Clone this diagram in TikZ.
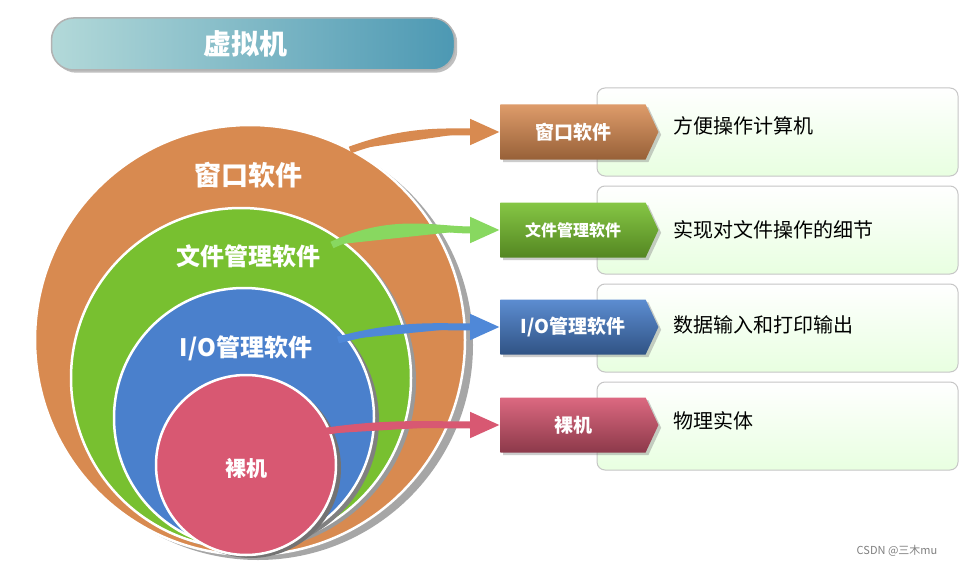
\documentclass[tikz,border=0pt]{standalone}
\usepackage{fontspec}
\setmainfont{Noto Sans CJK SC}
\usetikzlibrary{shadows,shapes.symbols,arrows.meta}
\definecolor{cor}{HTML}{D88A50}
\definecolor{cgr}{HTML}{78C030}
\definecolor{cbl}{HTML}{4A80CC}
\definecolor{cpk}{HTML}{D85872}
\definecolor{cgrA}{HTML}{88D860}
\definecolor{cblA}{HTML}{4F88D8}
\begin{document}
\begin{tikzpicture}[x=1pt,y=-1pt,
 panel/.style={draw=gray!45,rounded corners=8pt,top color=white,bottom color=yellow!25!green!12,line width=1pt},
 tag/.style={signal,signal to=east,signal pointer angle=130,minimum width=158pt,minimum height=55pt,inner sep=0pt,text=white,font=\bfseries\fontsize{19}{19}\selectfont,drop shadow={opacity=0.4}},
 ring/.style={draw=white,line width=2.5pt},
 clab/.style={text=white,font=\bfseries},
 ptext/.style={anchor=west,font=\fontsize{20}{20}\selectfont},
 carrow/.style={line width=7pt,-{Triangle[length=30pt,width=24pt]}}]
\useasboundingbox (0,0) rectangle (963,567);
\fill[white] (0,0) rectangle (963,567);
% title
\node[draw=gray!60,line width=1.5pt,rounded corners=22pt,minimum width=403pt,minimum height=52pt,left color=teal!30!white,right color=teal!85!blue!70,drop shadow={opacity=0.5}] (title) at (253,44) {};
\node[text=white,font=\bfseries\fontsize{28}{28}\selectfont] (tt) at (245,44) {虚拟机};
% panels
\foreach \y/\n in {88/p1,186/p2,284/p3,382/p4}{
 \draw[panel] (597,\y) rectangle (958,\y+88);}
\node[ptext] (t1) at (670,126) {方便操作计算机};
\node[ptext] (t2) at (670,230) {实现对文件操作的细节};
\node[ptext] (t3) at (670,325) {数据输入和打印输出};
\node[ptext] (t4) at (670,421) {物理实体};
% tags
\node[tag,top color=cor!85,bottom color=cor!70!black] (g1) at (573,132) {窗口软件};
\node[tag,top color=cgr!90,bottom color=cgr!70!black,font=\bfseries\fontsize{16}{16}\selectfont] (g2) at (573,230) {文件管理软件};
\node[tag,top color=cbl!90,bottom color=cbl!65!black] (g3) at (573,327) {I/O管理软件};
\node[tag,top color=cpk!90,bottom color=cpk!65!black] (g4) at (573,425) {裸机};
% circles
\fill[gray!70] (258,345) circle (215);
\fill[ring,fill=cor] (250,340) circle (215);
\fill[black!40] (246,381) circle (170);
\draw[ring,fill=cgr] (241,378) circle (170);
\fill[black!50] (249,421) circle (130);
\draw[ring,fill=cbl] (244,418) circle (130);
\fill[black!55] (251,468) circle (90);
\draw[ring,fill=cpk] (246,465) circle (90);
\node[clab,font=\bfseries\fontsize{27}{27}\selectfont] (c1) at (248,175) {窗口软件};
\node[clab,font=\bfseries\fontsize{24}{24}\selectfont] (c2) at (248,256) {文件管理软件};
\node[clab,font=\bfseries\fontsize{24}{24}\selectfont] (c3) at (246,348) {I/O管理软件};
\node[clab,font=\bfseries\fontsize{21}{21}\selectfont] (c4) at (246,468) {裸机};
% arrows
\coordinate (a1) at (350,150);\coordinate (a2) at (332,245);\coordinate (a3) at (338,340);\coordinate (a4) at (302,435);
\draw[carrow,draw=cor,fill=cor] (a1) to[out=20,in=180] (g1.west);
\draw[carrow,draw=cgrA,fill=cgrA] (a2) to[out=25,in=180] (g2.west);
\draw[carrow,draw=cblA,fill=cblA] (a3) to[out=15,in=180] (g3.west);
\draw[carrow,draw=cpk,fill=cpk] (a4) to[out=10,in=180] (g4.west);
\node[text=gray,font=\fontsize{11}{11}\selectfont] (wm) at (897,551) {CSDN @三木mu};
\end{tikzpicture}
\end{document}
